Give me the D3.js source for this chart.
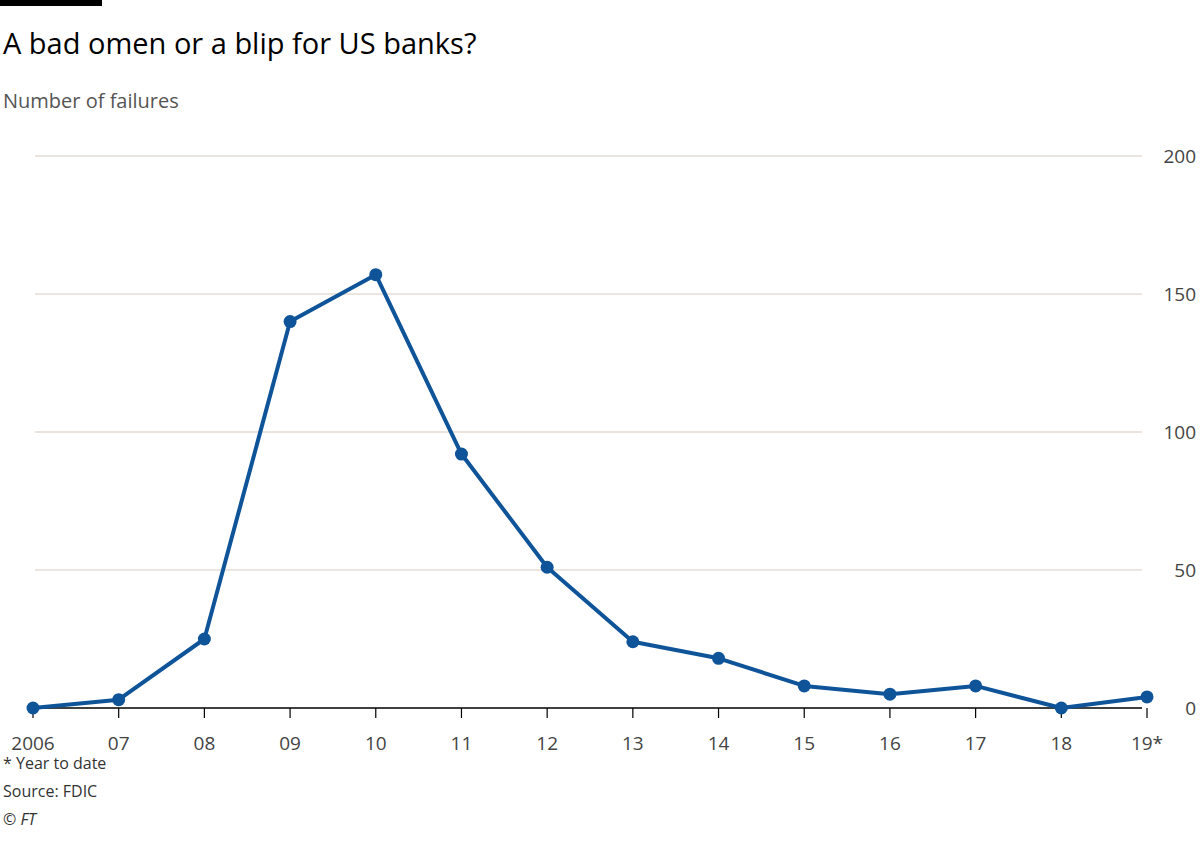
<!DOCTYPE html><html><head><meta charset="utf-8"><script src="https://cdn.jsdelivr.net/npm/d3@7"></script>
<style>body{margin:0;background:#fff;font-family:"Open Sans",sans-serif}</style></head><body><svg id="c" width="1200" height="857"></svg>
<script>
const years=["2006","07","08","09","10","11","12","13","14","15","16","17","18","19*"];
const failures=[0,3,25,140,157,92,51,24,18,8,5,8,0,4];
const yTicks=[0,50,100,150,200];
const svg=d3.select("#c");
svg.append("rect").attr("x",0).attr("y",0).attr("width",102).attr("height",6).attr("fill","#000");
svg.append("text").attr("x",3).attr("y",54).attr("font-size",29).attr("fill","#000").text("A bad omen or a blip for US banks?");
svg.append("text").attr("x",3).attr("y",108).attr("font-size",20).attr("fill","#555").text("Number of failures");
const x=d3.scalePoint().domain(years).range([33,1147]);
const y=d3.scaleLinear().domain([0,200]).range([708,156]);
const g=svg.append("g");
yTicks.forEach(t=>{
 g.append("line").attr("x1",35).attr("x2",1142).attr("y1",y(t)).attr("y2",y(t)).attr("stroke",t===0?"#000":"#e6ddd5").attr("stroke-width",1.5);
 g.append("text").attr("x",1196).attr("y",y(t)+7).attr("text-anchor","end").attr("font-size",19).attr("fill","#444").text(t);
});
years.forEach(yr=>{
 g.append("line").attr("x1",x(yr)).attr("x2",x(yr)).attr("y1",708).attr("y2",718).attr("stroke","#000").attr("stroke-width",1.2);
 g.append("text").attr("x",x(yr)).attr("y",750).attr("text-anchor","middle").attr("font-size",19).attr("fill","#444").text(yr);
});
const line=d3.line().x((d,i)=>x(years[i])).y(d=>y(d));
g.append("path").datum(failures).attr("d",line).attr("fill","none").attr("stroke","#0f5499").attr("stroke-width",4).attr("stroke-linejoin","round");
g.selectAll("circle").data(failures).join("circle").attr("cx",(d,i)=>x(years[i])).attr("cy",d=>y(d)).attr("r",6.5).attr("fill","#0f5499");
const notes=["* Year to date","Source: FDIC","© FT"];
notes.forEach((n,i)=>svg.append("text").attr("x",3).attr("y",769+i*28).attr("font-size",16).attr("fill","#333").attr("font-style",i===2?"italic":"normal").text(n));
</script></body></html>
